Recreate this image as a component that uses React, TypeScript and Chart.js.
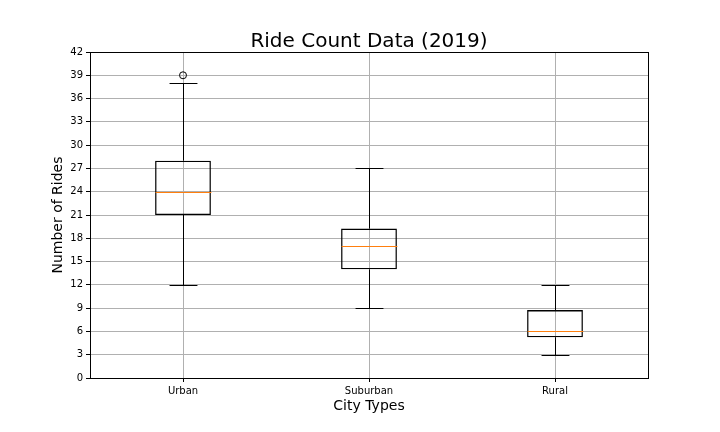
import React, { useEffect, useRef } from 'react';
import Chart from 'chart.js/auto';

const cityTypes = ['Urban', 'Suburban', 'Rural'];
const q1 = [21, 14, 5.25];
const q3 = [28, 19.25, 8.75];
const medians = [24, 17, 6];
const whiskerLow = [12, 9, 3];
const whiskerHigh = [38, 27, 12];
const outliers = [39, null, null];

const FONT = 'DejaVu Sans';

const boxPlugin = {
    id: 'boxWhiskers',
    afterDatasetsDraw(chart: any) {
        const { ctx, chartArea } = chart;
        const xs = chart.scales.x;
        const ys = chart.scales.y;
        const band = (xs.right - xs.left) / cityTypes.length;
        const boxHalf = band * 0.15;
        const capHalf = band * 0.075;
        ctx.save();
        ctx.lineWidth = 1;
        cityTypes.forEach((_, i) => {
            const x = Math.round(xs.getPixelForValue(i)) + 0.5;
            const line = (x1: number, y1: number, x2: number, y2: number, color: string) => {
                ctx.strokeStyle = color;
                ctx.beginPath();
                ctx.moveTo(x1, y1);
                ctx.lineTo(x2, y2);
                ctx.stroke();
            };
            const yHi = Math.round(ys.getPixelForValue(whiskerHigh[i])) + 0.5;
            const yLo = Math.round(ys.getPixelForValue(whiskerLow[i])) + 0.5;
            const yQ1 = ys.getPixelForValue(q1[i]);
            const yQ3 = ys.getPixelForValue(q3[i]);
            const yMed = Math.round(ys.getPixelForValue(medians[i])) + 0.5;
            line(x, yQ3, x, yHi, '#000');
            line(x, yQ1, x, yLo, '#000');
            line(x - capHalf, yHi, x + capHalf, yHi, '#000');
            line(x - capHalf, yLo, x + capHalf, yLo, '#000');
            line(x - boxHalf, yMed, x + boxHalf, yMed, '#ff7f0e');
        });
        ctx.strokeStyle = '#000';
        ctx.strokeRect(
            Math.round(chartArea.left) + 0.5,
            Math.round(chartArea.top) + 0.5,
            Math.round(chartArea.right - chartArea.left),
            Math.round(chartArea.bottom - chartArea.top)
        );
        ctx.restore();
    }
};

const App: React.FC = () => {
    const canvasRef = useRef<HTMLCanvasElement>(null);
    const chartRef = useRef<Chart>();

    useEffect(() => {
        document.body.style.margin = '0';
        if (!canvasRef.current) return;
        const ctx = canvasRef.current.getContext('2d');
        if (!ctx) return;
        if (chartRef.current) chartRef.current.destroy();

        chartRef.current = new Chart(ctx, {
            type: 'bar',
            data: {
                labels: cityTypes,
                datasets: [
                    {
                        type: 'bar',
                        data: cityTypes.map((_, i) => [q1[i], q3[i]]) as any,
                        backgroundColor: 'rgba(0,0,0,0)',
                        borderColor: '#000',
                        borderWidth: 1.3,
                        borderSkipped: false,
                        barPercentage: 0.3,
                        categoryPercentage: 1,
                    },
                    {
                        type: 'line',
                        data: outliers as any,
                        showLine: false,
                        pointStyle: 'circle',
                        pointRadius: 3.5,
                        pointBorderColor: '#000',
                        pointBackgroundColor: 'rgba(0,0,0,0)',
                        pointBorderWidth: 1,
                    }
                ]
            },
            options: {
                animation: false,
                responsive: false,
                devicePixelRatio: 1,
                layout: { padding: { left: 0, right: 72, top: 0, bottom: 0 } },
                plugins: {
                    legend: { display: false },
                    tooltip: { enabled: false },
                    title: {
                        display: true,
                        fullSize: false,
                        text: 'Ride Count Data (2019)',
                        color: '#000',
                        font: { family: FONT, size: 20, weight: 'normal' },
                        padding: { top: 30, bottom: -2 },
                    }
                },
                scales: {
                    x: {
                        offset: true,
                        grid: { offset: false, color: '#b0b0b0', tickColor: '#000', tickLength: 4 },
                        border: { display: false },
                        ticks: { color: '#000', font: { family: FONT, size: 10 }, padding: 3, maxRotation: 0 },
                        title: {
                            display: true,
                            text: 'City Types',
                            color: '#000',
                            font: { family: FONT, size: 14 },
                            padding: { top: 17, bottom: 17 },
                        },
                        afterFit: (scale: any) => { scale.height = 54; }
                    },
                    y: {
                        min: 0,
                        max: 42,
                        ticks: { stepSize: 3, color: '#000', font: { family: FONT, size: 10 }, padding: 3 },
                        grid: { color: '#b0b0b0', tickColor: '#000', tickLength: 4 },
                        border: { display: false },
                        title: {
                            display: true,
                            text: 'Number of Rides',
                            color: '#000',
                            font: { family: FONT, size: 14 },
                            padding: { top: 50, bottom: 0 },
                        },
                        afterFit: (scale: any) => { scale.width = 90; }
                    }
                }
            } as any,
            plugins: [boxPlugin]
        });

        return () => {
            if (chartRef.current) chartRef.current.destroy();
        };
    }, []);

    return (
        <div style={{ width: 720, height: 432, background: '#fff' }}>
            <canvas ref={canvasRef} width={720} height={432}></canvas>
        </div>
    );
};

export default App;
